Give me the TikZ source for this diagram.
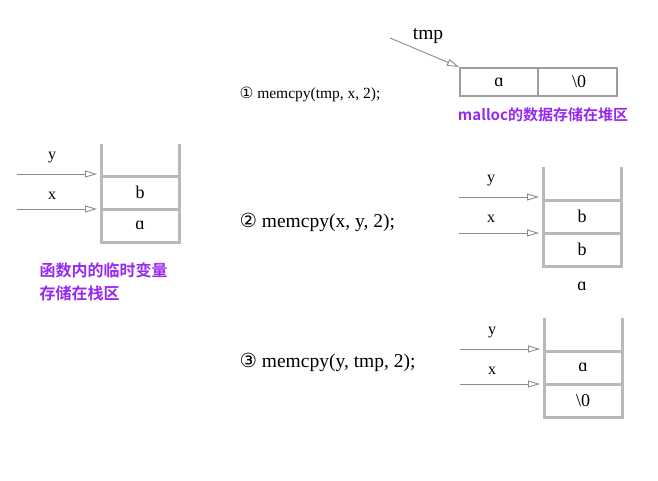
\documentclass[tikz,border=0pt]{standalone}
\usepackage{fontspec}
\setmainfont{Liberation Serif}
\newfontfamily\cjkbold{Noto Sans CJK SC Bold}
\newfontfamily\circfont{DejaVu Sans}
\usetikzlibrary{arrows.meta}
\definecolor{memgray}{RGB}{185,185,185}
\definecolor{ptrgray}{RGB}{140,140,140}
\definecolor{notepurple}{RGB}{150,40,240}
\newcommand{\alp}{ɑ}

\begin{document}
\begin{tikzpicture}[x=1pt, y=-1pt,
		stackline/.style={draw=memgray, line width=3pt},
		heapline/.style={draw=memgray!85!black, line width=1.8pt},
		ptr/.style={draw=ptrgray, line width=0.9pt, -{Triangle[open, length=12pt, width=7pt]}},
		cell/.style={font=\fontsize{18}{20}\selectfont},
		lbl/.style={font=\fontsize{16}{18}\selectfont, inner sep=1pt},
		call/.style={anchor=west, font=\fontsize{19.5}{22}\selectfont},
		note/.style={text=notepurple, font=\cjkbold\fontsize{16}{18}\selectfont}]
		\useasboundingbox (0,0) rectangle (658,480);
		
		% stack of the function
		\draw[stackline] (101,144) -- (101,242) -- (179,242) -- (179,144);
		\draw[stackline] (101,176) -- (179,176) (101,209) -- (179,209);
		\node[cell] (s1b) at (140,192.5) {b};
		\node[cell] (s1a) at (140,225.5) {\alp};
		\coordinate (s1y0) at (17,174); \coordinate (s1y1) at (97,174);
		\coordinate (s1x0) at (17,209); \coordinate (s1x1) at (97,209);
		\draw[ptr] (s1y0) -- (s1y1);
		\draw[ptr] (s1x0) -- (s1x1);
		\node[lbl] (s1ylbl) at (52,158) {y};
		\node[lbl] (s1xlbl) at (52,196) {x};
		\node[note, anchor=west] (stacknote1) at (36,270) {函数内的临时变量};
		\node[note, anchor=west] (stacknote2) at (36,293) {存储在栈区};
		
		% heap
		\draw[heapline] (460,68) rectangle (617,96);
		\draw[heapline] (538,68) -- (538,96);
		\node[cell] (h1) at (499,82) {\alp};
		\node[cell] (h2) at (579,82) {\textbackslash 0};
		\coordinate (tmp0) at (390,38); \coordinate (tmp1) at (459,67);
		\draw[ptr] (tmp0) -- (tmp1);
		\node[font=\fontsize{19.5}{22}\selectfont] (tmplbl) at (428,36) {tmp};
		\node[note, font=\cjkbold\fontsize{15}{17}\selectfont] (heapnote) at (543,115) {malloc的数据存储在堆区};
		\node[call, font=\fontsize{15.5}{18}\selectfont] (step1) at (236,94) {{\circfont ①} memcpy(tmp, x, 2);};
		
		% after step 2
		\draw[stackline] (543,167) -- (543,266) -- (621,266) -- (621,167);
		\draw[stackline] (543,200) -- (621,200) (543,233) -- (621,233);
		\node[cell] (s2b) at (582,216.5) {b};
		\node[cell] (s2a) at (582,249.5) {b};
		\node[cell] (s2c) at (582,286) {\alp};
		\coordinate (s2y0) at (459,197); \coordinate (s2y1) at (539,197);
		\coordinate (s2x0) at (459,233); \coordinate (s2x1) at (539,233);
		\draw[ptr] (s2y0) -- (s2y1);
		\draw[ptr] (s2x0) -- (s2x1);
		\node[lbl] (s2ylbl) at (491,181) {y};
		\node[lbl] (s2xlbl) at (491,219) {x};
		\node[call] (step2) at (236,222) {{\circfont ②} memcpy(x, y, 2);};
		
		% after step 3
		\draw[stackline] (544,318) -- (544,417) -- (622,417) -- (622,318);
		\draw[stackline] (544,351) -- (622,351) (544,384) -- (622,384);
		\node[cell] (s3b) at (583,367.5) {\alp};
		\node[cell] (s3a) at (583,400.5) {\textbackslash 0};
		\coordinate (s3y0) at (460,349); \coordinate (s3y1) at (540,349);
		\coordinate (s3x0) at (460,384); \coordinate (s3x1) at (540,384);
		\draw[ptr] (s3y0) -- (s3y1);
		\draw[ptr] (s3x0) -- (s3x1);
		\node[lbl] (s3ylbl) at (492,333) {y};
		\node[lbl] (s3xlbl) at (492,371) {x};
		\node[call] (step3) at (236,362) {{\circfont ③} memcpy(y, tmp, 2);};
		
\end{tikzpicture}
\end{document}
